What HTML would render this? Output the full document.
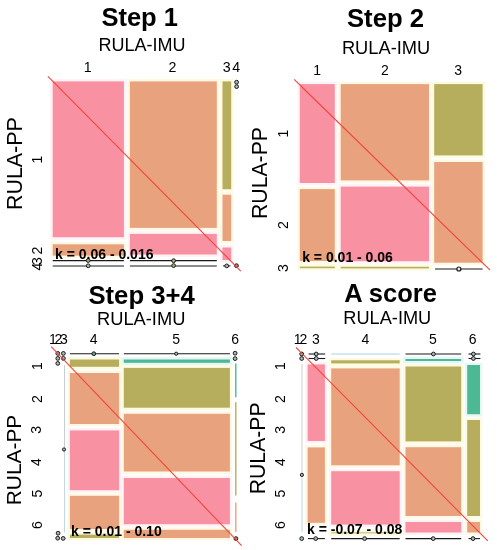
<!DOCTYPE html>
<html lang="en">
<head>
<meta charset="utf-8">
<title>RULA-PP vs RULA-IMU agreement</title>
<style>
html,body{margin:0;padding:0;background:#fff;}
body{width:497px;height:550px;overflow:hidden;}
svg{display:block;}
svg text{font-family:"Liberation Sans",Arial,Helvetica,sans-serif;fill:#000;}
</style>
</head>
<body>
<svg width="497" height="550" viewBox="0 0 497 550">
<rect x="0" y="0" width="497" height="550" fill="#ffffff"/>
<g style="filter:blur(0.6px)"><rect x="50.3" y="79.0" width="76.0" height="160.6" fill="#ffe9ee" opacity="0.6"/>
<rect x="50.3" y="241.9" width="76.0" height="16.1" fill="#fff4d2" opacity="0.6"/>
<rect x="127.5" y="79.0" width="91.7" height="151.3" fill="#fff4d2" opacity="0.6"/>
<rect x="127.5" y="231.5" width="91.7" height="25.4" fill="#ffe9ee" opacity="0.6"/>
<rect x="220.1" y="79.0" width="13.5" height="112.6" fill="#fbf6cf" opacity="0.6"/>
<rect x="220.1" y="192.3" width="13.5" height="51.1" fill="#fff4d2" opacity="0.6"/>
<rect x="220.1" y="245.1" width="13.5" height="17.4" fill="#ffe9ee" opacity="0.6"/>
<rect x="297.4" y="81.7" width="39.8" height="103.7" fill="#ffe9ee" opacity="0.6"/>
<rect x="297.4" y="186.7" width="39.8" height="76.7" fill="#fff4d2" opacity="0.6"/>
<rect x="297.4" y="264.2" width="39.8" height="6.4" fill="#fbf6cf" opacity="0.6"/>
<rect x="338.3" y="81.7" width="93.1" height="101.1" fill="#fff4d2" opacity="0.6"/>
<rect x="338.3" y="184.2" width="93.1" height="79.4" fill="#ffe9ee" opacity="0.6"/>
<rect x="338.3" y="264.4" width="93.1" height="6.4" fill="#fbf6cf" opacity="0.6"/>
<rect x="431.8" y="81.7" width="53.2" height="76.1" fill="#fbf6cf" opacity="0.6"/>
<rect x="431.8" y="159.6" width="53.2" height="105.5" fill="#fff4d2" opacity="0.6"/>
<rect x="67.5" y="357.1" width="54.0" height="12.1" fill="#fbf6cf" opacity="0.6"/>
<rect x="67.5" y="370.6" width="54.0" height="55.8" fill="#fff4d2" opacity="0.6"/>
<rect x="67.5" y="428.0" width="54.0" height="64.6" fill="#ffe9ee" opacity="0.6"/>
<rect x="67.5" y="493.4" width="54.0" height="38.0" fill="#fff4d2" opacity="0.6"/>
<rect x="67.5" y="532.2" width="54.0" height="8.2" fill="#fbf6cf" opacity="0.6"/>
<rect x="121.4" y="357.1" width="110.9" height="8.1" fill="#d3f4ec" opacity="0.6"/>
<rect x="121.4" y="365.5" width="110.9" height="44.6" fill="#fbf6cf" opacity="0.6"/>
<rect x="121.4" y="411.4" width="110.9" height="62.5" fill="#fff4d2" opacity="0.6"/>
<rect x="121.4" y="475.6" width="110.9" height="51.0" fill="#ffe9ee" opacity="0.6"/>
<rect x="121.4" y="527.4" width="110.9" height="13.0" fill="#fff4d2" opacity="0.6"/>
<rect x="305.2" y="362.0" width="22.1" height="81.4" fill="#ffe9ee" opacity="0.6"/>
<rect x="305.2" y="445.0" width="22.1" height="80.2" fill="#fff4d2" opacity="0.6"/>
<rect x="328.8" y="357.9" width="73.3" height="7.9" fill="#fbf6cf" opacity="0.6"/>
<rect x="328.8" y="366.0" width="73.3" height="101.7" fill="#fff4d2" opacity="0.6"/>
<rect x="328.8" y="468.8" width="73.3" height="58.2" fill="#ffe9ee" opacity="0.6"/>
<rect x="328.8" y="529.8" width="73.3" height="6.0" fill="#fbf6cf" opacity="0.6"/>
<rect x="403.1" y="356.6" width="60.5" height="6.8" fill="#d3f4ec" opacity="0.6"/>
<rect x="403.1" y="364.1" width="60.5" height="79.7" fill="#fbf6cf" opacity="0.6"/>
<rect x="403.1" y="444.8" width="60.5" height="73.6" fill="#fff4d2" opacity="0.6"/>
<rect x="403.1" y="519.6" width="60.5" height="15.3" fill="#ffe9ee" opacity="0.6"/>
<rect x="464.8" y="362.6" width="17.6" height="54.0" fill="#d3f4ec" opacity="0.6"/>
<rect x="464.8" y="417.6" width="17.6" height="100.8" fill="#fbf6cf" opacity="0.6"/>
<rect x="464.8" y="519.6" width="17.6" height="15.3" fill="#fff4d2" opacity="0.6"/></g>
<text x="139.7" y="26.2" text-anchor="middle" style="font-size:25.5px;font-weight:bold;">Step 1</text>
<text x="142.1" y="51.0" text-anchor="middle" style="font-size:18px;">RULA-IMU</text>
<text x="21.7" y="163.6" text-anchor="middle" style="font-size:21.4px;" transform="rotate(-90 21.7 163.6)">RULA-PP</text>
<text x="87.8" y="71.5" text-anchor="middle" style="font-size:14.2px;">1</text>
<text x="172.5" y="71.5" text-anchor="middle" style="font-size:14.2px;">2</text>
<text x="226.6" y="71.5" text-anchor="middle" style="font-size:14.2px;">3</text>
<text x="236.1" y="71.5" text-anchor="middle" style="font-size:14.2px;">4</text>
<text x="41.8" y="159.5" text-anchor="middle" style="font-size:14px;" transform="rotate(-90 41.8 159.5)">1</text>
<text x="41.8" y="250.5" text-anchor="middle" style="font-size:14px;" transform="rotate(-90 41.8 250.5)">2</text>
<text x="41.8" y="261.0" text-anchor="middle" style="font-size:14px;" transform="rotate(-90 41.8 261.0)">3</text>
<text x="41.8" y="266.6" text-anchor="middle" style="font-size:14px;" transform="rotate(-90 41.8 266.6)">4</text>
<rect x="52.7" y="81.4" width="71.2" height="155.8" fill="#f891a2"/>
<rect x="52.7" y="244.3" width="71.2" height="11.3" fill="#e8a27d"/>
<rect x="129.9" y="81.4" width="86.9" height="146.5" fill="#e8a27d"/>
<rect x="129.9" y="233.9" width="86.9" height="20.6" fill="#f891a2"/>
<rect x="222.5" y="81.4" width="8.7" height="107.8" fill="#b6ae5d"/>
<rect x="222.5" y="194.7" width="8.7" height="46.3" fill="#e8a27d"/>
<rect x="222.5" y="247.5" width="8.7" height="12.6" fill="#f891a2"/>
<line x1="52.7" y1="260.6" x2="123.9" y2="260.6" stroke="#1a1a1a" stroke-width="1.2" />
<line x1="129.9" y1="260.6" x2="216.8" y2="260.6" stroke="#1a1a1a" stroke-width="1.2" />
<line x1="52.7" y1="266.0" x2="123.9" y2="266.0" stroke="#1a1a1a" stroke-width="1.2" />
<line x1="129.9" y1="266.0" x2="216.8" y2="266.0" stroke="#1a1a1a" stroke-width="1.2" />
<line x1="223.0" y1="265.9" x2="230.5" y2="265.9" stroke="#1a1a1a" stroke-width="1.0" />
<circle cx="88.2" cy="260.5" r="1.9" fill="#9fae7c" stroke="#1a1a1a" stroke-width="1.0"/>
<circle cx="88.2" cy="265.8" r="1.9" fill="#aab4b8" stroke="#1a1a1a" stroke-width="1.0"/>
<circle cx="173.6" cy="260.7" r="1.9" fill="#9fae7c" stroke="#1a1a1a" stroke-width="1.0"/>
<circle cx="173.6" cy="265.6" r="1.9" fill="#9fae7c" stroke="#1a1a1a" stroke-width="1.0"/>
<circle cx="226.7" cy="265.9" r="1.9" fill="#aab4b8" stroke="#1a1a1a" stroke-width="1.0"/>
<circle cx="236.5" cy="265.7" r="1.9" fill="#c9837a" stroke="#1a1a1a" stroke-width="1.0"/>
<circle cx="236.6" cy="82.2" r="1.9" fill="#aab4b8" stroke="#1a1a1a" stroke-width="1.0"/>
<circle cx="236.6" cy="86.6" r="1.9" fill="#aab4b8" stroke="#1a1a1a" stroke-width="1.0"/>
<line x1="47.9" y1="76.4" x2="240.8" y2="271.1" stroke="#f2463c" stroke-width="1.1" />
<text x="55.0" y="258.6" text-anchor="start" style="font-size:14px;font-weight:bold;">k = 0.06 - 0.016</text>
<text x="385.5" y="26.6" text-anchor="middle" style="font-size:25.7px;font-weight:bold;">Step 2</text>
<text x="386.1" y="54.3" text-anchor="middle" style="font-size:18.3px;">RULA-IMU</text>
<text x="266.7" y="173.0" text-anchor="middle" style="font-size:21.2px;" transform="rotate(-90 266.7 173.0)">RULA-PP</text>
<text x="317.2" y="74.6" text-anchor="middle" style="font-size:14px;">1</text>
<text x="385.0" y="74.6" text-anchor="middle" style="font-size:14px;">2</text>
<text x="458.2" y="74.6" text-anchor="middle" style="font-size:14px;">3</text>
<text x="288.0" y="133.6" text-anchor="middle" style="font-size:14px;" transform="rotate(-90 288.0 133.6)">1</text>
<text x="288.0" y="225.1" text-anchor="middle" style="font-size:14px;" transform="rotate(-90 288.0 225.1)">2</text>
<text x="288.0" y="268.2" text-anchor="middle" style="font-size:14px;" transform="rotate(-90 288.0 268.2)">3</text>
<rect x="299.8" y="84.1" width="35.0" height="98.9" fill="#f891a2"/>
<rect x="299.8" y="189.1" width="35.0" height="71.9" fill="#e8a27d"/>
<rect x="299.8" y="266.6" width="35.0" height="1.6" fill="#b6ae5d"/>
<rect x="340.7" y="84.1" width="88.3" height="96.3" fill="#e8a27d"/>
<rect x="340.7" y="186.6" width="88.3" height="74.6" fill="#f891a2"/>
<rect x="340.7" y="266.8" width="88.3" height="1.6" fill="#b6ae5d"/>
<rect x="434.2" y="84.1" width="48.4" height="71.3" fill="#b6ae5d"/>
<rect x="434.2" y="162.0" width="48.4" height="100.7" fill="#e8a27d"/>
<line x1="435.0" y1="269.0" x2="482.6" y2="269.0" stroke="#1a1a1a" stroke-width="1.2" />
<circle cx="458.9" cy="269.0" r="2.0" fill="#e9e9e9" stroke="#1a1a1a" stroke-width="1.2"/>
<line x1="294.1" y1="79.4" x2="490.1" y2="270.2" stroke="#f2463c" stroke-width="1.1" />
<text x="302.2" y="262.4" text-anchor="start" style="font-size:14px;font-weight:bold;">k = 0.01 - 0.06</text>
<text x="141.6" y="303.5" text-anchor="middle" style="font-size:25.7px;font-weight:bold;">Step 3+4</text>
<text x="141.2" y="324.5" text-anchor="middle" style="font-size:18.3px;">RULA-IMU</text>
<text x="21.4" y="460.0" text-anchor="middle" style="font-size:20.9px;" transform="rotate(-90 21.4 460.0)">RULA-PP</text>
<text x="57.3" y="344.3" text-anchor="middle" style="font-size:14px;letter-spacing:-2.3px;">123</text>
<text x="93.6" y="344.3" text-anchor="middle" style="font-size:14px;">4</text>
<text x="176.2" y="344.3" text-anchor="middle" style="font-size:14px;">5</text>
<text x="235.1" y="344.3" text-anchor="middle" style="font-size:14px;">6</text>
<text x="41.5" y="366.0" text-anchor="middle" style="font-size:14px;" transform="rotate(-90 41.5 366.0)">1</text>
<text x="41.5" y="399.0" text-anchor="middle" style="font-size:14px;" transform="rotate(-90 41.5 399.0)">2</text>
<text x="41.5" y="429.9" text-anchor="middle" style="font-size:14px;" transform="rotate(-90 41.5 429.9)">3</text>
<text x="41.5" y="462.2" text-anchor="middle" style="font-size:14px;" transform="rotate(-90 41.5 462.2)">4</text>
<text x="41.5" y="493.5" text-anchor="middle" style="font-size:14px;" transform="rotate(-90 41.5 493.5)">5</text>
<text x="41.5" y="525.0" text-anchor="middle" style="font-size:14px;" transform="rotate(-90 41.5 525.0)">6</text>
<rect x="69.9" y="359.5" width="49.2" height="7.3" fill="#b6ae5d"/>
<rect x="69.9" y="373.0" width="49.2" height="51.0" fill="#e8a27d"/>
<rect x="69.9" y="430.4" width="49.2" height="59.8" fill="#f891a2"/>
<rect x="69.9" y="495.8" width="49.2" height="33.2" fill="#e8a27d"/>
<rect x="69.9" y="534.6" width="49.2" height="3.4" fill="#b6ae5d"/>
<rect x="123.8" y="359.5" width="106.1" height="3.3" fill="#4db894"/>
<rect x="123.8" y="367.9" width="106.1" height="39.8" fill="#b6ae5d"/>
<rect x="123.8" y="413.8" width="106.1" height="57.7" fill="#e8a27d"/>
<rect x="123.8" y="478.0" width="106.1" height="46.2" fill="#f891a2"/>
<rect x="123.8" y="529.8" width="106.1" height="8.2" fill="#e8a27d"/>
<line x1="235.8" y1="363.6" x2="235.8" y2="397.2" stroke="#4db894" stroke-width="1.4" />
<line x1="235.8" y1="402.2" x2="235.8" y2="495.6" stroke="#b6ae5d" stroke-width="1.4" />
<line x1="235.8" y1="502.4" x2="235.8" y2="532.0" stroke="#e8a27d" stroke-width="1.4" />
<line x1="64.6" y1="365.0" x2="64.6" y2="449.0" stroke="#c4c9cf" stroke-width="1.0" />
<line x1="64.6" y1="449.0" x2="64.6" y2="532.6" stroke="#bcd6de" stroke-width="1.0" />
<line x1="69.9" y1="353.7" x2="119.1" y2="353.7" stroke="#1a1a1a" stroke-width="1.1" />
<line x1="123.8" y1="353.7" x2="229.9" y2="353.7" stroke="#1a1a1a" stroke-width="1.1" />
<circle cx="93.8" cy="353.7" r="1.9" fill="#5f9f8f" stroke="#1a1a1a" stroke-width="1.0"/>
<circle cx="176.2" cy="353.7" r="1.6" fill="#aab4b8" stroke="#1a1a1a" stroke-width="1.0"/>
<circle cx="235.1" cy="353.2" r="1.9" fill="#aab4b8" stroke="#1a1a1a" stroke-width="1.0"/>
<circle cx="235.1" cy="358.6" r="1.9" fill="#aab4b8" stroke="#1a1a1a" stroke-width="1.0"/>
<circle cx="57.8" cy="353.4" r="1.9" fill="#aab4b8" stroke="#1a1a1a" stroke-width="1.0"/>
<circle cx="57.8" cy="358.4" r="1.9" fill="#aab4b8" stroke="#1a1a1a" stroke-width="1.0"/>
<circle cx="63.4" cy="353.4" r="1.9" fill="#aab4b8" stroke="#1a1a1a" stroke-width="1.0"/>
<circle cx="63.4" cy="358.4" r="1.9" fill="#aab4b8" stroke="#1a1a1a" stroke-width="1.0"/>
<circle cx="57.8" cy="363.4" r="1.9" fill="#aab4b8" stroke="#1a1a1a" stroke-width="1.0"/>
<circle cx="64.0" cy="449.5" r="1.6" fill="#aab4b8" stroke="#1a1a1a" stroke-width="1.0"/>
<circle cx="58.1" cy="533.2" r="1.9" fill="#aab4b8" stroke="#1a1a1a" stroke-width="1.0"/>
<circle cx="57.7" cy="538.2" r="1.9" fill="#aab4b8" stroke="#1a1a1a" stroke-width="1.0"/>
<circle cx="63.2" cy="538.4" r="1.9" fill="#aab4b8" stroke="#1a1a1a" stroke-width="1.0"/>
<circle cx="235.9" cy="538.6" r="1.9" fill="#c9837a" stroke="#1a1a1a" stroke-width="1.0"/>
<line x1="51.2" y1="346.7" x2="241.6" y2="545.6" stroke="#f2463c" stroke-width="1.1" />
<text x="71.0" y="535.6" text-anchor="start" style="font-size:14px;font-weight:bold;">k = 0.01 - 0.10</text>
<text x="390.6" y="302.0" text-anchor="middle" style="font-size:25.5px;font-weight:bold;">A score</text>
<text x="387.3" y="324.0" text-anchor="middle" style="font-size:18.2px;">RULA-IMU</text>
<text x="264.9" y="448.3" text-anchor="middle" style="font-size:21.2px;" transform="rotate(-90 264.9 448.3)">RULA-PP</text>
<text x="299.4" y="344.3" text-anchor="middle" style="font-size:14px;letter-spacing:-2.2px;">12</text>
<text x="315.8" y="344.3" text-anchor="middle" style="font-size:14px;">3</text>
<text x="365.4" y="344.3" text-anchor="middle" style="font-size:14px;">4</text>
<text x="432.8" y="344.3" text-anchor="middle" style="font-size:14px;">5</text>
<text x="472.6" y="344.3" text-anchor="middle" style="font-size:14px;">6</text>
<text x="285.4" y="366.0" text-anchor="middle" style="font-size:14px;" transform="rotate(-90 285.4 366.0)">1</text>
<text x="285.4" y="399.0" text-anchor="middle" style="font-size:14px;" transform="rotate(-90 285.4 399.0)">2</text>
<text x="285.4" y="429.9" text-anchor="middle" style="font-size:14px;" transform="rotate(-90 285.4 429.9)">3</text>
<text x="285.4" y="462.2" text-anchor="middle" style="font-size:14px;" transform="rotate(-90 285.4 462.2)">4</text>
<text x="285.4" y="493.5" text-anchor="middle" style="font-size:14px;" transform="rotate(-90 285.4 493.5)">5</text>
<text x="285.4" y="525.0" text-anchor="middle" style="font-size:14px;" transform="rotate(-90 285.4 525.0)">6</text>
<rect x="307.6" y="364.4" width="17.3" height="76.6" fill="#f891a2"/>
<rect x="307.6" y="447.4" width="17.3" height="75.4" fill="#e8a27d"/>
<line x1="331.2" y1="354.0" x2="399.7" y2="354.0" stroke="#a9d3df" stroke-width="1.2" />
<rect x="331.2" y="360.3" width="68.5" height="3.1" fill="#b6ae5d"/>
<rect x="331.2" y="368.4" width="68.5" height="96.9" fill="#e8a27d"/>
<rect x="331.2" y="471.2" width="68.5" height="53.4" fill="#f891a2"/>
<rect x="331.2" y="532.2" width="68.5" height="1.2" fill="#c9c27e"/>
<rect x="405.5" y="359.0" width="55.7" height="2.0" fill="#4db894"/>
<rect x="405.5" y="366.5" width="55.7" height="74.9" fill="#b6ae5d"/>
<rect x="405.5" y="447.2" width="55.7" height="68.8" fill="#e8a27d"/>
<rect x="405.5" y="522.0" width="55.7" height="10.5" fill="#f891a2"/>
<rect x="467.2" y="365.0" width="12.8" height="49.2" fill="#4db894"/>
<rect x="467.2" y="420.0" width="12.8" height="96.0" fill="#b6ae5d"/>
<rect x="467.2" y="522.0" width="12.8" height="10.5" fill="#e8a27d"/>
<line x1="302.0" y1="364.0" x2="302.0" y2="475.0" stroke="#cfcfc6" stroke-width="1.0" />
<line x1="302.0" y1="475.0" x2="302.0" y2="532.0" stroke="#bcd6de" stroke-width="1.0" />
<line x1="308.6" y1="354.0" x2="325.2" y2="354.0" stroke="#1a1a1a" stroke-width="1.1" />
<line x1="308.6" y1="358.5" x2="325.2" y2="358.5" stroke="#1a1a1a" stroke-width="1.1" />
<line x1="405.5" y1="354.0" x2="461.2" y2="354.0" stroke="#1a1a1a" stroke-width="1.1" />
<line x1="468.5" y1="354.0" x2="480.4" y2="354.0" stroke="#1a1a1a" stroke-width="1.1" />
<line x1="468.5" y1="358.5" x2="480.4" y2="358.5" stroke="#1a1a1a" stroke-width="1.1" />
<circle cx="301.7" cy="354.0" r="1.9" fill="#aab4b8" stroke="#1a1a1a" stroke-width="1.0"/>
<circle cx="316.2" cy="354.0" r="1.9" fill="#aab4b8" stroke="#1a1a1a" stroke-width="1.0"/>
<circle cx="473.4" cy="354.0" r="1.9" fill="#aab4b8" stroke="#1a1a1a" stroke-width="1.0"/>
<circle cx="301.7" cy="358.5" r="1.9" fill="#aab4b8" stroke="#1a1a1a" stroke-width="1.0"/>
<circle cx="316.2" cy="358.5" r="1.9" fill="#aab4b8" stroke="#1a1a1a" stroke-width="1.0"/>
<circle cx="473.4" cy="358.5" r="1.9" fill="#aab4b8" stroke="#1a1a1a" stroke-width="1.0"/>
<circle cx="433.4" cy="354.0" r="1.9" fill="#aab4b8" stroke="#1a1a1a" stroke-width="1.0"/>
<line x1="308.0" y1="538.6" x2="324.9" y2="538.6" stroke="#1a1a1a" stroke-width="1.1" />
<line x1="331.2" y1="538.6" x2="399.7" y2="538.6" stroke="#1a1a1a" stroke-width="1.1" />
<line x1="405.5" y1="538.6" x2="461.2" y2="538.6" stroke="#1a1a1a" stroke-width="1.1" />
<line x1="468.5" y1="538.6" x2="480.0" y2="538.6" stroke="#1a1a1a" stroke-width="1.1" />
<circle cx="301.7" cy="538.6" r="1.9" fill="#aab4b8" stroke="#1a1a1a" stroke-width="1.0"/>
<circle cx="315.7" cy="538.6" r="1.9" fill="#aab4b8" stroke="#1a1a1a" stroke-width="1.0"/>
<circle cx="364.6" cy="538.6" r="1.9" fill="#aab4b8" stroke="#1a1a1a" stroke-width="1.0"/>
<circle cx="433.2" cy="538.6" r="1.9" fill="#aab4b8" stroke="#1a1a1a" stroke-width="1.0"/>
<circle cx="473.0" cy="538.6" r="1.9" fill="#aab4b8" stroke="#1a1a1a" stroke-width="1.0"/>
<circle cx="301.9" cy="474.9" r="1.6" fill="#aab4b8" stroke="#1a1a1a" stroke-width="1.0"/>
<line x1="296.1" y1="347.5" x2="487.8" y2="540.9" stroke="#f2463c" stroke-width="1.1" />
<text x="307.0" y="533.6" text-anchor="start" style="font-size:14px;font-weight:bold;">k = -0.07 - 0.08</text>
</svg>
</body>
</html>
